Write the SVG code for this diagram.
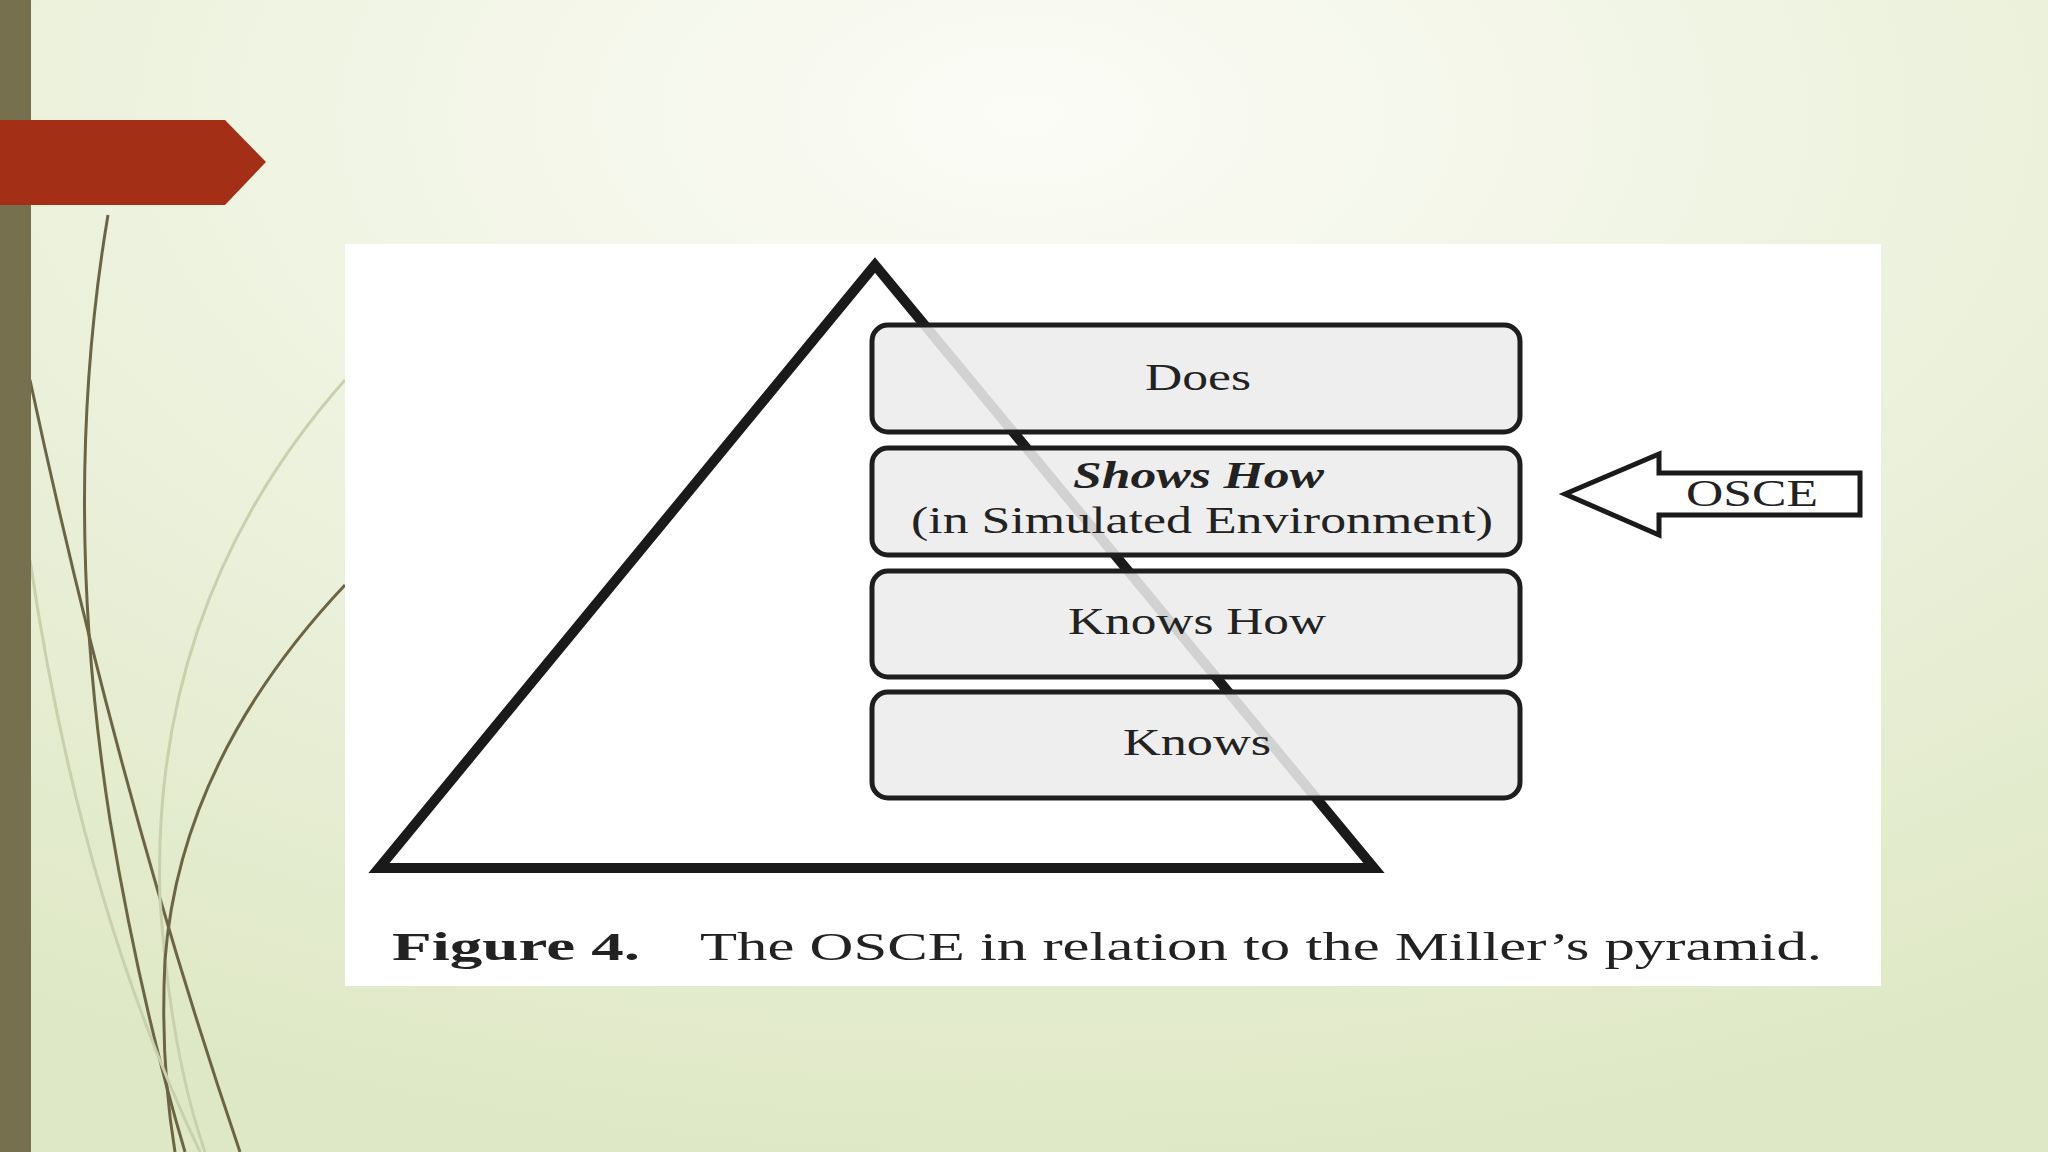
<svg xmlns="http://www.w3.org/2000/svg" width="2048" height="1152" viewBox="0 0 2048 1152">
<defs>
<radialGradient id="bg" cx="0.5" cy="0.1" r="0.9">
<stop offset="0" stop-color="#fbfcf6"/><stop offset="1" stop-color="#dfe8c6"/>
</radialGradient>
<style>
.box{fill:#ececec;fill-opacity:0.88;stroke:#1e1e1e;stroke-width:5}
.t{font-family:"Liberation Serif",serif;font-size:38px;fill:#222}
.deco{fill:none;stroke-width:3}
</style>
</defs>
<rect width="2048" height="1152" fill="url(#bg)"/>
<g id="decor">
<path class="deco" stroke="#6b6445" d="M108 215 Q60 500 110 820 Q140 1000 185 1152"/>
<path class="deco" stroke="#6b6445" d="M30 380 Q120 800 240 1152"/>
<path class="deco" stroke="#c9d0ad" d="M345 380 Q150 600 160 900 Q170 1050 205 1152"/>
<path class="deco" stroke="#6b6445" d="M345 585 Q180 760 165 960 Q160 1060 175 1152"/>
<path class="deco" stroke="#c9d0ad" d="M30 560 Q80 900 200 1152"/>
</g>
<rect x="0" y="0" width="31" height="1152" fill="#76704f"/>
<polygon points="0,120 225,120 266,162 225,205 0,205" fill="#a33016"/>
<rect x="345" y="244" width="1536" height="742" fill="#ffffff"/>
<g id="pyramid"><polygon points="875,265 379,868 1374,868" fill="none" stroke="#1a1a1a" stroke-width="10" stroke-linejoin="miter"/></g>
<g id="does"><rect class="box" x="872" y="325" width="648" height="107" rx="16"/><text class="t" x="1145" y="390" textLength="106" lengthAdjust="spacingAndGlyphs">Does</text></g>
<g id="shows"><rect class="box" x="872" y="448" width="648" height="107" rx="16"/>
<text class="t" x="1073" y="488" font-style="italic" font-weight="bold" textLength="251" lengthAdjust="spacingAndGlyphs">Shows How</text>
<text class="t" x="911" y="533" textLength="582" lengthAdjust="spacingAndGlyphs">(in Simulated Environment)</text></g>
<g id="knowshow"><rect class="box" x="872" y="571" width="648" height="106" rx="16"/><text class="t" x="1068" y="634" textLength="258" lengthAdjust="spacingAndGlyphs">Knows How</text></g>
<g id="knows"><rect class="box" x="872" y="692" width="648" height="106" rx="16"/><text class="t" x="1123" y="755" textLength="148" lengthAdjust="spacingAndGlyphs">Knows</text></g>
<g id="osce"><polygon points="1565,494 1659,454 1659,473 1860,473 1860,515 1659,515 1659,535" fill="#fff" stroke="#1a1a1a" stroke-width="5"/>
<text class="t" x="1686" y="506" textLength="132" lengthAdjust="spacingAndGlyphs">OSCE</text></g>
<g id="caption"><text y="960" font-family="Liberation Serif,serif" font-size="40" fill="#222"><tspan x="392" font-weight="bold" textLength="248" lengthAdjust="spacingAndGlyphs">Figure 4.</tspan><tspan x="700" textLength="1122" lengthAdjust="spacingAndGlyphs">The OSCE in relation to the Miller’s pyramid.</tspan></text></g>
<g id="connectors"/>
</svg>
